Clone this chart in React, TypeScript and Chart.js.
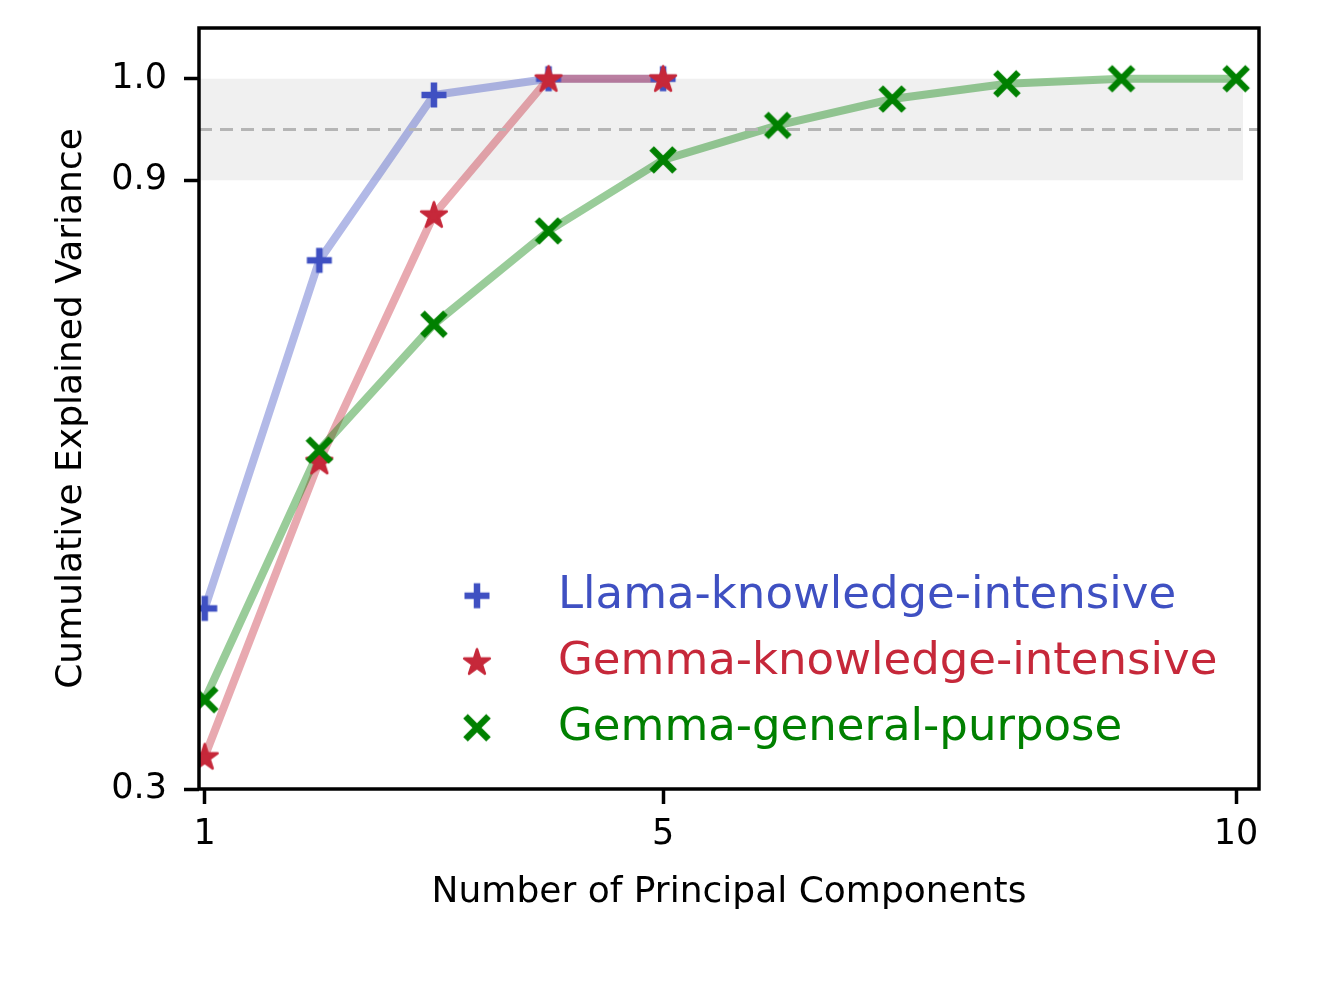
import React, { useEffect, useRef } from "react";
import { Chart, registerables } from "chart.js";

Chart.register(...registerables);

// ---------------- Data ----------------
const components = [1, 2, 3, 4, 5, 6, 7, 8, 9, 10];
const llamaKnowledge = [0.478, 0.821, 0.984, 1.0, 1.0];
const gemmaKnowledge = [0.332, 0.623, 0.866, 1.0, 1.0];
const gemmaGeneral = [0.388, 0.634, 0.758, 0.85, 0.92, 0.954, 0.98, 0.995, 1.0, 1.0];
const seriesLabels = ["Llama-knowledge-intensive", "Gemma-knowledge-intensive", "Gemma-general-purpose"];
const xTickValues = [1, 5, 10];
const yTickValues = [0.3, 0.9, 1.0];
const thresholdValue = 0.95;
const bandLow = 0.9;
const bandHigh = 1.0;
const bandXRange = [0.95, 10.06];

// ---------------- Styles ----------------
const BLUE = "#3f50c2";
const RED = "#c6283a";
const GREEN = "#008000";
const FONT = '"DejaVu Sans"';

function hexToRgba(hex: string, a: number) {
  const n = parseInt(hex.slice(1), 16);
  return `rgba(${(n >> 16) & 255},${(n >> 8) & 255},${n & 255},${a})`;
}

function makeCanvas(size: number) {
  const c = document.createElement("canvas");
  c.width = size;
  c.height = size;
  return c;
}

function makePlus(color: string) {
  const s = 34;
  const c = makeCanvas(s);
  const ctx = c.getContext("2d")!;
  const m = s / 2;
  const half = 12.5;
  const t = 6.5;
  ctx.fillStyle = color;
  ctx.fillRect(m - half, m - t / 2, half * 2, t);
  ctx.fillRect(m - t / 2, m - half, t, half * 2);
  return c;
}

function makeStar(color: string) {
  const s = 36;
  const c = makeCanvas(s);
  const ctx = c.getContext("2d")!;
  const m = s / 2;
  const R = 13.5;
  const r = R * 0.382;
  ctx.beginPath();
  for (let i = 0; i < 10; i++) {
    const rad = i % 2 === 0 ? R : r;
    const ang = -Math.PI / 2 + (i * Math.PI) / 5;
    const x = m + rad * Math.cos(ang);
    const y = m + 1 + rad * Math.sin(ang);
    if (i === 0) ctx.moveTo(x, y);
    else ctx.lineTo(x, y);
  }
  ctx.closePath();
  ctx.fillStyle = color;
  ctx.strokeStyle = color;
  ctx.lineWidth = 2.5;
  ctx.lineJoin = "round";
  ctx.fill();
  ctx.stroke();
  return c;
}

function makeCross(color: string) {
  const s = 36;
  const c = makeCanvas(s);
  const ctx = c.getContext("2d")!;
  const m = s / 2;
  const h = 11.5;
  ctx.strokeStyle = color;
  ctx.lineWidth = 6.5;
  ctx.lineCap = "butt";
  ctx.beginPath();
  ctx.moveTo(m - h, m - h);
  ctx.lineTo(m + h, m + h);
  ctx.moveTo(m - h, m + h);
  ctx.lineTo(m + h, m - h);
  ctx.stroke();
  return c;
}

export default function App() {
  const canvasRef = useRef<HTMLCanvasElement | null>(null);

  useEffect(() => {
    if (!canvasRef.current) return;
    Chart.defaults.font.family = FONT;

    const plusImg = makePlus(BLUE);
    const starImg = makeStar(RED);
    const crossImg = makeCross(GREEN);

    const toPts = (arr: number[]) => arr.map((v, i) => ({ x: components[i], y: v }));

    const legendItems = [
      { label: seriesLabels[0], color: BLUE, img: plusImg },
      { label: seriesLabels[1], color: RED, img: starImg },
      { label: seriesLabels[2], color: GREEN, img: crossImg },
    ];

    const framePlugin = {
      id: "frame",
      afterDatasetsDraw(chart: any) {
        const { ctx, chartArea } = chart;
        ctx.save();
        ctx.strokeStyle = "#000";
        ctx.lineWidth = 3.5;
        ctx.strokeRect(chartArea.left, chartArea.top, chartArea.right - chartArea.left, chartArea.bottom - chartArea.top);
        ctx.restore();
      },
    };

    const legendPlugin = {
      id: "customLegend",
      afterDraw(chart: any) {
        const ctx = chart.ctx;
        ctx.save();
        ctx.font = `45px ${FONT}`;
        ctx.textAlign = "left";
        ctx.textBaseline = "alphabetic";
        legendItems.forEach((item, i) => {
          const markerY = 595.7 + i * 66;
          const baseY = 607.7 + i * 66.2;
          ctx.drawImage(item.img, 477 - item.img.width / 2, markerY - item.img.height / 2);
          ctx.fillStyle = item.color;
          ctx.fillText(item.label, 558, baseY);
        });
        ctx.restore();
      },
    };

    const lineDs = (data: number[], color: string, order: number) => ({
      data: toPts(data),
      borderColor: hexToRgba(color, 0.4),
      backgroundColor: hexToRgba(color, 0.4),
      borderWidth: 8,
      pointRadius: 0,
      showLine: true,
      fill: false,
      tension: 0,
      order,
    });

    const pointDs = (label: string, data: number[], img: HTMLCanvasElement, color: string, order: number) => ({
      label,
      data: toPts(data),
      borderColor: color,
      backgroundColor: color,
      showLine: false,
      pointStyle: img,
      pointRadius: 15,
      clip: 0,
      order,
    });

    const chart = new Chart(canvasRef.current, {
      type: "line",
      data: {
        datasets: [
          {
            data: [
              { x: bandXRange[0], y: bandHigh },
              { x: bandXRange[1], y: bandHigh },
            ],
            borderWidth: 0,
            borderColor: "rgba(0,0,0,0)",
            backgroundColor: "#f0f0f0",
            pointRadius: 0,
            fill: { value: bandLow },
            order: 20,
          } as any,
          lineDs(llamaKnowledge, BLUE, 19),
          lineDs(gemmaKnowledge, RED, 18),
          lineDs(gemmaGeneral, GREEN, 17),
          {
            data: [
              { x: 0.95, y: thresholdValue },
              { x: 10.2, y: thresholdValue },
            ],
            borderColor: "#b5b5b5",
            borderWidth: 3,
            borderDash: [13, 8],
            pointRadius: 0,
            fill: false,
            order: 16,
          } as any,
          pointDs(seriesLabels[0], llamaKnowledge, plusImg, BLUE, 15),
          pointDs(seriesLabels[1], gemmaKnowledge, starImg, RED, 14),
          pointDs(seriesLabels[2], gemmaGeneral, crossImg, GREEN, 13),
        ] as any,
      },
      options: {
        responsive: false,
        animation: false,
        devicePixelRatio: 1,
        events: [],
        layout: { autoPadding: false, padding: { left: 0, top: 28, right: 65, bottom: 0 } },
        plugins: {
          legend: { display: false },
          tooltip: { enabled: false },
        },
        scales: {
          x: {
            type: "linear",
            min: 0.95,
            max: 10.2,
            afterFit(scale: any) {
              scale.height = 199;
              scale.paddingLeft = 0;
              scale.paddingRight = 0;
            },
            afterBuildTicks(scale: any) {
              scale.ticks = xTickValues.map((v) => ({ value: v }));
            },
            ticks: {
              color: "#000",
              font: { size: 35, family: FONT },
              padding: 10,
              maxRotation: 0,
              autoSkip: false,
              callback: (v: any) => String(v),
            },
            grid: {
              display: true,
              drawOnChartArea: false,
              drawTicks: true,
              tickLength: 15,
              tickWidth: 3.5,
              tickColor: "#000",
            },
            border: { display: false },
            title: {
              display: true,
              text: "Number of Principal Components",
              color: "#000",
              font: { size: 36, family: FONT },
              padding: { top: 0, bottom: 74 },
            },
          },
          y: {
            type: "linear",
            min: 0.3,
            max: 1.05,
            afterFit(scale: any) {
              scale.width = 199;
              scale.paddingTop = 0;
              scale.paddingBottom = 0;
            },
            afterBuildTicks(scale: any) {
              scale.ticks = yTickValues.map((v) => ({ value: v }));
            },
            ticks: {
              color: "#000",
              font: { size: 35, family: FONT },
              padding: 17,
              autoSkip: false,
              callback: (v: any) => Number(v).toFixed(1),
            },
            grid: {
              display: true,
              drawOnChartArea: false,
              drawTicks: true,
              tickLength: 15,
              tickWidth: 3.5,
              tickColor: "#000",
            },
            border: { display: false },
            title: {
              display: true,
              text: "Cumulative Explained Variance",
              color: "#000",
              font: { size: 36, family: FONT },
              padding: { top: 50, bottom: 0 },
            },
          },
        },
      } as any,
      plugins: [framePlugin, legendPlugin],
    });

    return () => chart.destroy();
  }, []);

  return (
    <div style={{ position: "absolute", left: 0, top: 0, width: 1324, height: 988, background: "#fff" }}>
      <canvas ref={canvasRef} width={1324} height={988} style={{ display: "block" }} />
    </div>
  );
}
